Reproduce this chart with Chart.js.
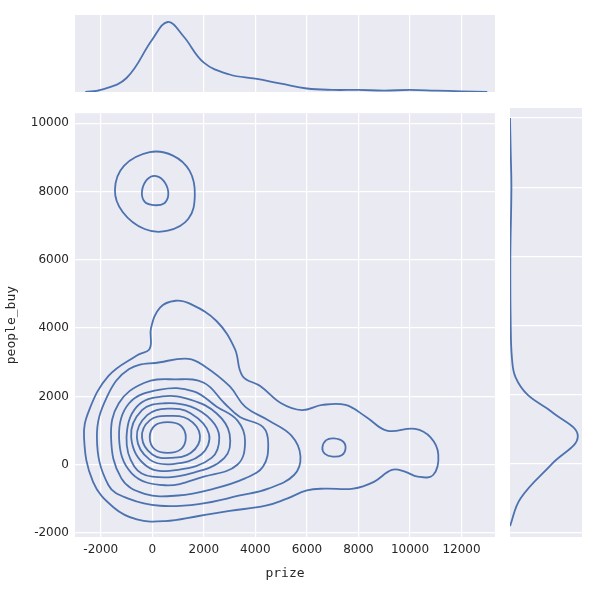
<!DOCTYPE html>
<html>
<head>
<meta charset="utf-8">
<script src="https://cdn.jsdelivr.net/npm/chart.js@4/dist/chart.umd.min.js"></script>
<style>
  body { margin: 0; background: #fff; }
  .box { position: absolute; }
</style>
</head>
<body>
<div class="box" style="left:0;top:0;width:500px;height:100px"><canvas id="top"></canvas></div>
<div class="box" style="left:0;top:100px;width:500px;height:500px"><canvas id="main"></canvas></div>
<div class="box" style="left:500px;top:100px;width:100px;height:500px"><canvas id="right"></canvas></div>
<script>
const LINE = '#4C72B0';
const BG = '#EAEAF2';

const xTicks = [-2000, 0, 2000, 4000, 6000, 8000, 10000, 12000];
const yTicks = [-2000, 0, 2000, 4000, 6000, 8000, 10000];

// KDE contour levels, [prize, people_buy] (outer to inner)
const contour1 = [[-2650,800],[-2450,1600],[-1700,2600],[-600,3200],[-100,3400],[-50,4000],[300,4600],[900,4800],[1500,4700],[2500,4200],[3200,3400],[3500,2600],[4200,2300],[5000,1800],[5800,1600],[6600,1750],[7500,1750],[8300,1400],[9100,1000],[10200,1050],[10800,800],[11100,300],[10900,-300],[10300,-350],[9800,-200],[9300,-150],[8600,-500],[7800,-700],[6700,-700],[6000,-750],[5200,-1000],[4400,-1200],[3000,-1350],[1800,-1500],[500,-1650],[-600,-1600],[-1500,-1250],[-2300,-500]];
const contour2 = [[-2150,800],[-1750,2000],[-900,2800],[300,3000],[1400,3100],[2000,2900],[3000,2300],[3600,1700],[4500,1300],[5400,850],[5750,250],[5500,-300],[4500,-700],[3400,-900],[1800,-1150],[300,-1200],[-900,-1000],[-1700,-600]];
const contour3 = [[-1600,800],[-1300,1800],[-300,2400],[900,2500],[2000,2400],[2800,1800],[3400,1400],[4300,1100],[4500,600],[4300,-50],[3600,-400],[2400,-700],[1000,-900],[-300,-850],[-1200,-400]];
const contour4 = [[-1290,800],[-900,1800],[300,2200],[1600,2150],[2500,1700],[3300,1300],[3600,700],[3300,0],[2000,-350],[500,-600],[-800,-250]];
const contour5 = [[-1000,800],[-600,1700],[400,2000],[1500,1900],[2500,1500],[3000,900],[2800,200],[1500,-250],[0,-350],[-700,-50]];
const contour6 = [[-820,800],[-400,1600],[500,1800],[1500,1700],[2300,1300],[2600,800],[2300,200],[1000,-150],[-200,-50]];
const contour7 = [[-600,800],[-200,1450],[600,1640],[1500,1500],[2200,900],[1900,300],[800,20],[-100,150]];
const contour8 = [[-400,800],[-100,1300],[600,1430],[1400,1330],[1850,850],[1500,350],[700,200],[0,300]];
const contour9 = [[-100,800],[100,1150],[600,1250],[1100,1150],[1300,800],[1100,450],[600,350],[100,450]];
const blob = [[6600,500],[6750,720],[7050,770],[7400,680],[7500,480],[7350,280],[7000,240],[6700,320]];
const upperOuter = [[-1450,8050],[-1100,8750],[-100,9150],[800,9050],[1450,8600],[1650,7900],[1400,7200],[600,6850],[-300,6900],[-1150,7400]];
const upperInner = [[-400,8000],[-200,8350],[150,8450],[500,8250],[620,7900],[450,7650],[50,7600],[-300,7700]];

const contours = [contour1, contour2, contour3, contour4, contour5, contour6, contour7, contour8, contour9, blob, upperOuter, upperInner];

// marginal densities (relative)
const prizeGrid = [-2600,-2000,-1000,0,600,1200,2000,3000,4000,5000,6000,7000,8000,9000,10000,11000,12000,13000];
const prizeDens = [0,0.03,0.2,0.75,1.0,0.8,0.42,0.25,0.19,0.12,0.05,0.03,0.03,0.02,0.03,0.02,0.01,0];
const buyGrid = [-1800,-1000,0,800,1500,2000,2500,3000,4000,6000,8000,9000,10000];
const buyDens = [0,0.15,0.6,0.97,0.6,0.25,0.08,0.03,0.01,0.005,0.02,0.01,0];

const bgPlugin = {
  id: 'bg',
  beforeDraw(chart) {
    const a = chart.chartArea, ctx = chart.ctx;
    ctx.save();
    ctx.fillStyle = BG;
    ctx.fillRect(a.left, a.top, a.right - a.left, a.bottom - a.top);
    ctx.restore();
  }
};

const font = { family: 'DejaVu Sans', size: 12 };
const fixTicks = arr => (s => { s.ticks = arr.map(v => ({ value: v })); });
const plain = v => String(v);
const lineDs = (pts, closed) => {
  // closed loops get one wrap point each side so the spline has no corner at the seam
  const p = closed ? [pts[pts.length - 1], ...pts, pts[0], pts[1]] : pts;
  return { data: p.map(q => ({ x: q[0], y: q[1] })), showLine: true, borderColor: LINE, borderWidth: 1.8, pointRadius: 0, tension: 0.4, fill: false,
    segment: closed ? { borderColor: c => (c.p0DataIndex === 0 || c.p1DataIndex === p.length - 1) ? 'rgba(0,0,0,0)' : LINE } : undefined };
};

const common = {
  animation: false, responsive: true, maintainAspectRatio: false,
  plugins: { legend: { display: false }, tooltip: { enabled: false } }
};

new Chart(document.getElementById('main'), {
  type: 'scatter',
  data: { datasets: contours.map(c => lineDs(c, true)) },
  options: {
    ...common,
    layout: { padding: { left: 0, right: 5, top: 3, bottom: 15 } },
    scales: {
      x: {
        min: -3000, max: 13300, afterBuildTicks: fixTicks(xTicks),
        afterFit: s => { s.height = 48; },
        grid: { color: '#fff', lineWidth: 1.2, drawTicks: false }, border: { display: false },
        ticks: { color: '#262626', font, padding: 6, callback: plain },
        title: { display: true, text: 'prize', color: '#262626', font: { family: 'DejaVu Sans Mono', size: 13 }, padding: { top: 2 } }
      },
      y: {
        min: -2115, max: 10290, afterBuildTicks: fixTicks(yTicks),
        afterFit: s => { s.width = 75; },
        grid: { color: '#fff', lineWidth: 1.2, drawTicks: false }, border: { display: false },
        ticks: { color: '#262626', font, padding: 6, callback: plain },
        title: { display: true, text: 'people_buy', color: '#262626', font: { family: 'DejaVu Sans Mono', size: 13 }, padding: { bottom: 2 } }
      }
    }
  },
  plugins: [bgPlugin]
});

new Chart(document.getElementById('top'), {
  type: 'scatter',
  data: { datasets: [lineDs(prizeGrid.map((v, i) => [v, prizeDens[i]]), false)] },
  options: {
    ...common,
    layout: { padding: { left: 75, right: 5, top: 15, bottom: 8 } },
    scales: {
      x: {
        min: -3000, max: 13300, afterBuildTicks: fixTicks(xTicks),
        afterFit: s => { s.height = 0; },
        grid: { color: '#fff', lineWidth: 1.2, drawTicks: false }, border: { display: false },
        ticks: { display: false }
      },
      y: { display: false, min: 0, max: 1.1 }
    }
  },
  plugins: [bgPlugin]
});

new Chart(document.getElementById('right'), {
  type: 'scatter',
  data: { datasets: [lineDs(buyGrid.map((v, i) => [buyDens[i], v]), false)] },
  options: {
    ...common,
    layout: { padding: { left: 10, right: 18, top: 8, bottom: 63 } },
    scales: {
      x: { display: false, min: 0, max: 1.03 },
      y: {
        min: -2115, max: 10290, afterBuildTicks: fixTicks(yTicks),
        afterFit: s => { s.width = 0; },
        grid: { color: '#fff', lineWidth: 1.2, drawTicks: false }, border: { display: false },
        ticks: { display: false }
      }
    }
  },
  plugins: [bgPlugin]
});
</script>
</body>
</html>
